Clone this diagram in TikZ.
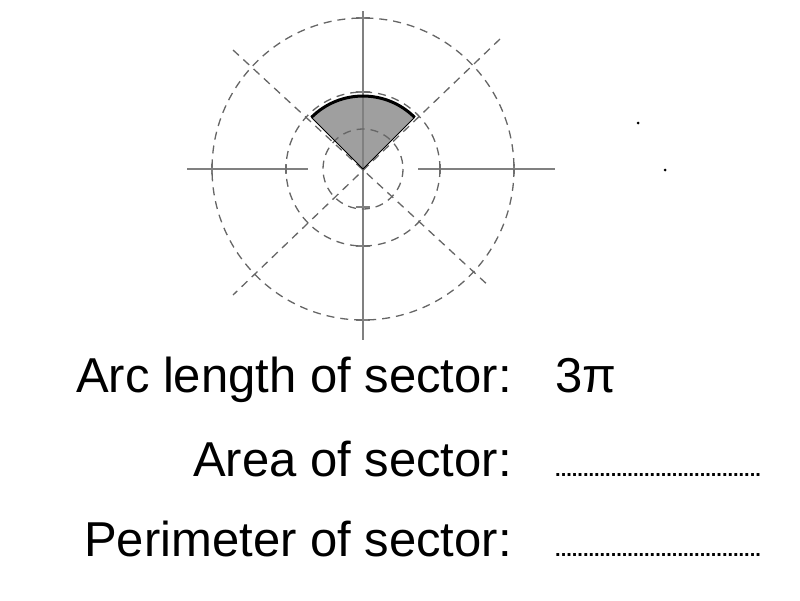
\documentclass[tikz,border=0pt]{standalone}
\usepackage{fontspec}
\setmainfont{Liberation Sans}
\usetikzlibrary{calc}
\begin{document}
\begin{tikzpicture}[x=1pt,y=-1pt,
  grid/.style={gray,line width=1.3pt},
  dsh/.style={gray!80!black,line width=1.3pt,dash pattern=on 8pt off 6pt},
  lbl/.style={anchor=base east,font=\fontsize{49}{52}\selectfont,inner sep=0},
  val/.style={anchor=base west,font=\fontsize{49}{52}\selectfont,inner sep=0}]
\useasboundingbox (0,0) rectangle (800,600);
\coordinate (O) at (363,169);
\fill[gray!75] (O) -- ++(-51.6,-51.6) arc[start angle=-135,end angle=-45,radius=73] -- cycle;
\draw[grid] (187,169) -- (308,169) (418,169) -- (555,169);
\draw[grid] (363,11) -- (363,340);
\foreach \r in {77,151}{
  \draw[grid] ($(O)+(\r,-5)$) -- ($(O)+(\r,5)$);
  \draw[grid] ($(O)+(-\r,-5)$) -- ($(O)+(-\r,5)$);
  \draw[grid] ($(O)+(-7,\r)$) -- ($(O)+(7,\r)$);
  \draw[grid] ($(O)+(-7,-\r)$) -- ($(O)+(7,-\r)$);}
\draw[grid] (356,207) -- (370,207);
\draw[dsh] (O) circle[radius=40];
\draw[dsh] (O) circle[radius=77];
\draw[dsh] (O) circle[radius=151];
\draw[dsh] (233,50) -- (490,287);
\draw[dsh] (500,39) -- (233,295);
\draw[black,line width=1pt] (O) -- ++(-51.6,-51.6) (O) -- ++(51.6,-51.6);
\draw[black,line width=3pt] ($(O)+(-51.6,-51.6)$) arc[start angle=-135,end angle=-45,radius=73];
\fill (638,123) circle[radius=1.5];
\fill (665,170) circle[radius=1.5];
\node[lbl] (l1) at (512,392) {Arc length of sector:};
\node[lbl] (l2) at (512,476) {Area of sector:};
\node[lbl] (l3) at (512,556) {Perimeter of sector:};
\node[val] (v1) at (555,392) {3π};
\node[val] (v2) at (555,476) {\fontsize{20}{20}\selectfont \textbf{.....................................}};
\node[val] (v3) at (555,556) {\fontsize{20}{20}\selectfont \textbf{.....................................}};
\end{tikzpicture}
\end{document}
